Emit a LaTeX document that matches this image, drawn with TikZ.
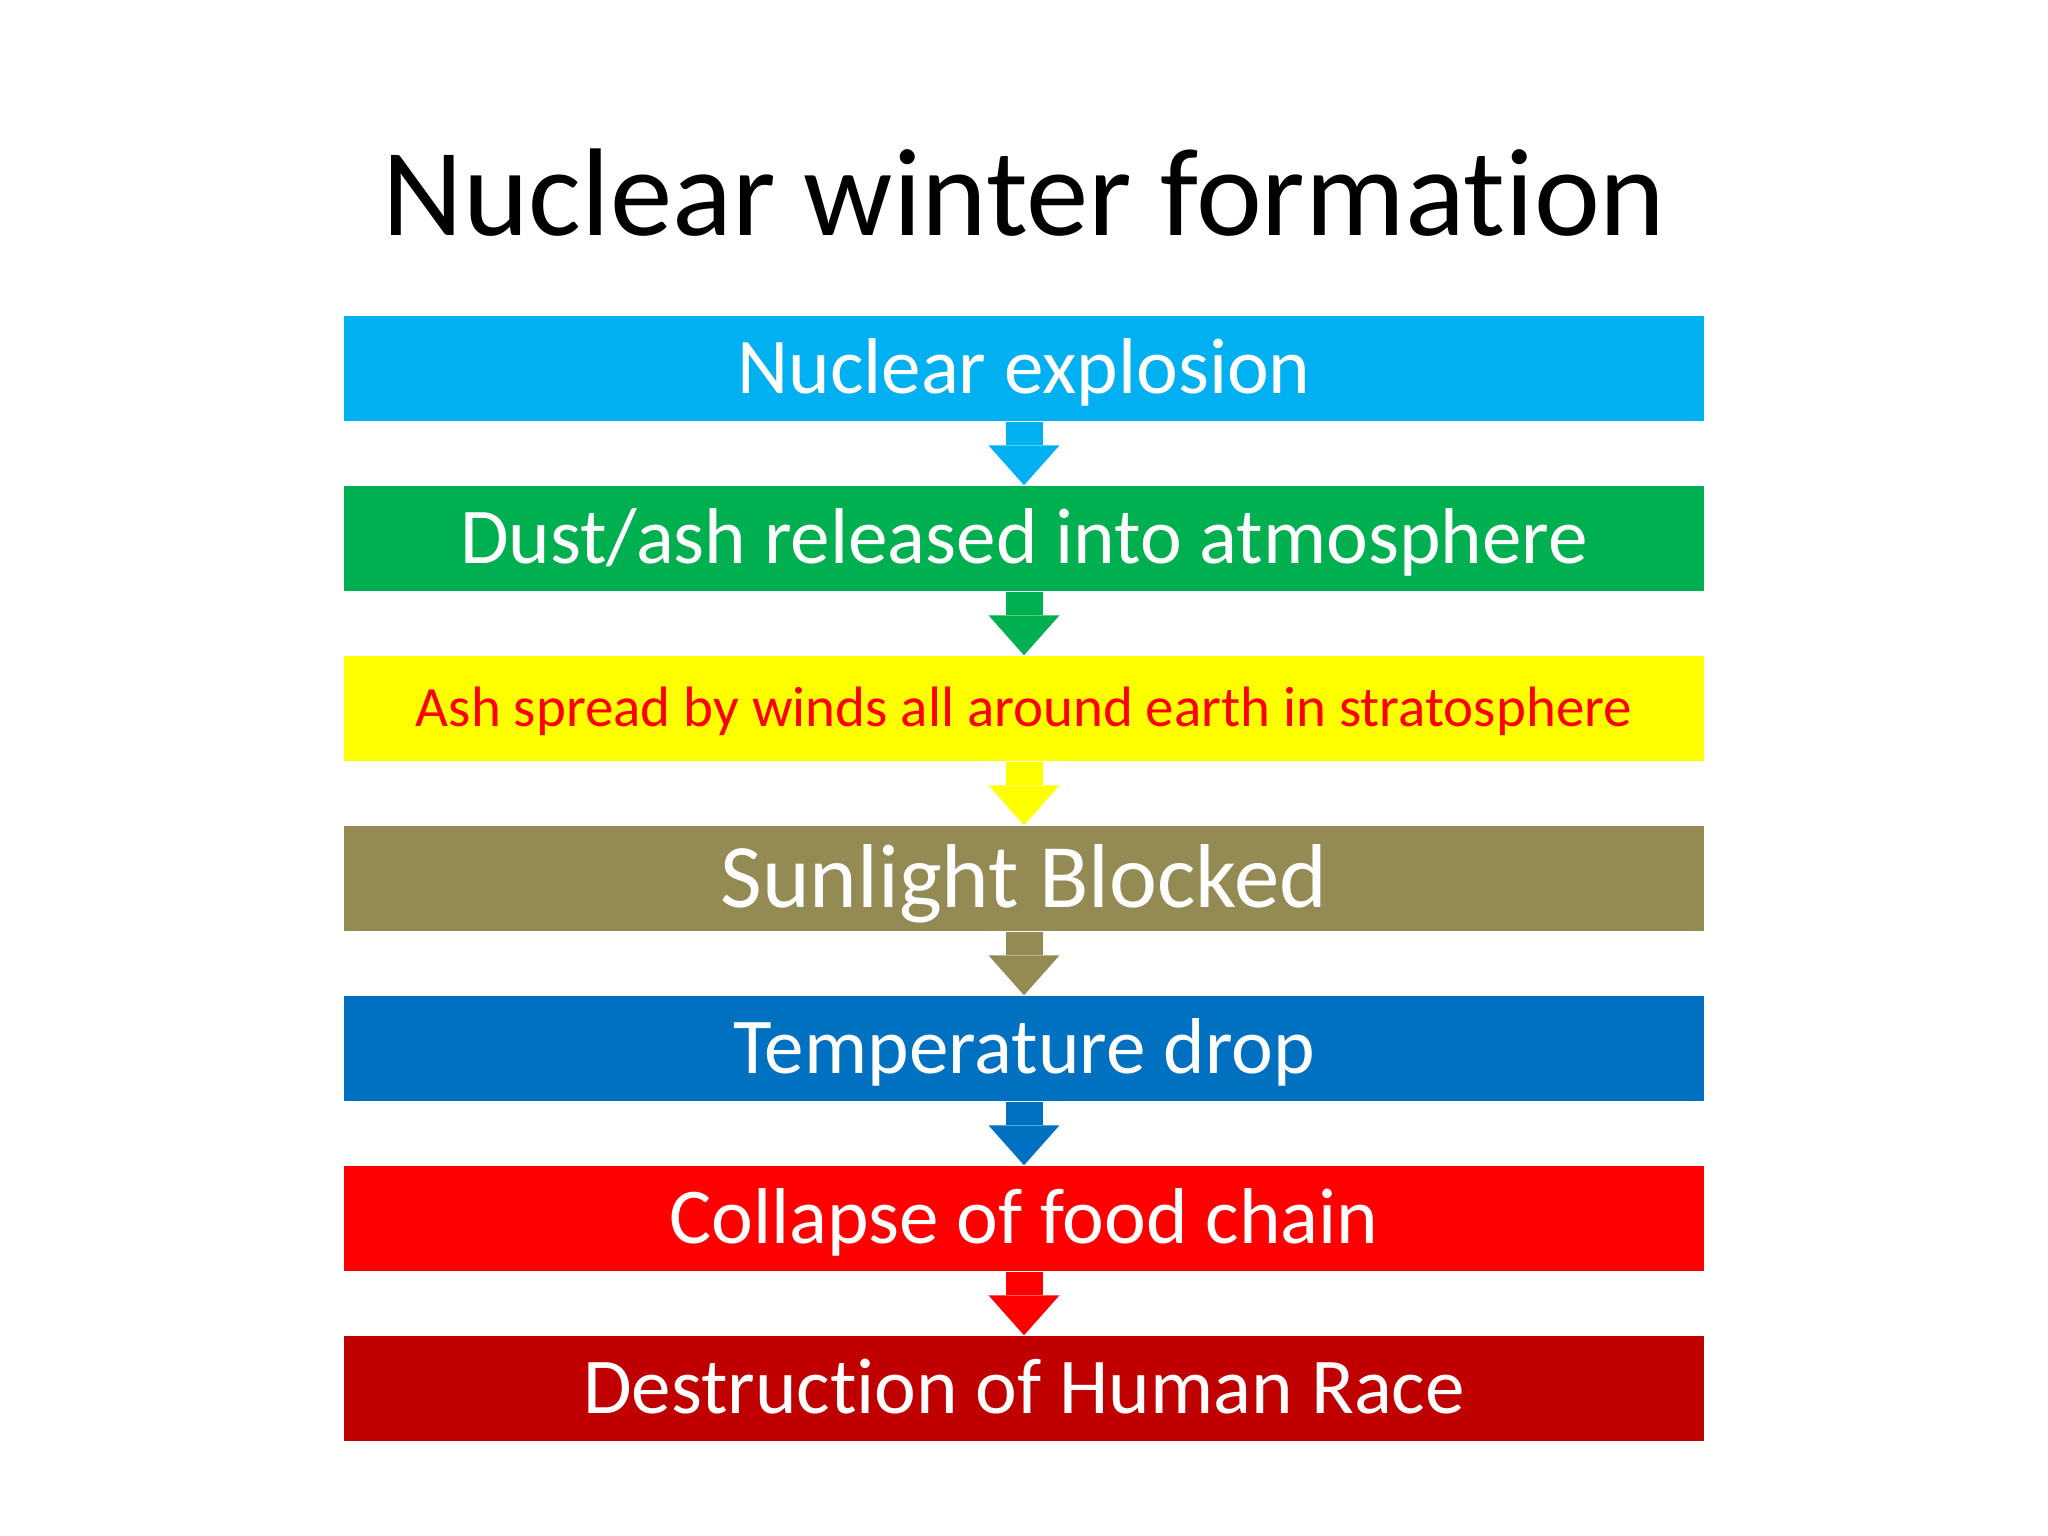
\documentclass[tikz,border=0pt]{standalone}
\usepackage{fontspec}
\setmainfont{Carlito}[Ligatures=NoCommon]
\usetikzlibrary{arrows.meta}
\definecolor{skyblue}{HTML}{00B0F0}
\definecolor{leafgreen}{HTML}{00B050}
\definecolor{ashyellow}{HTML}{FFFF00}
\definecolor{dimolive}{HTML}{948A54}
\definecolor{deepblue}{HTML}{0070C0}
\definecolor{firered}{HTML}{FF0000}
\definecolor{darkred}{HTML}{C00000}
\tikzset{
  stepbox/.style={rectangle, fill=#1, minimum width=13.6cm, minimum height=1.05cm, inner sep=0pt,
    text=white, font=\fontsize{22.5}{27}\selectfont, text height=14.2pt, text depth=0pt},
  flow/.style={draw=#1, line width=0.37cm, -{Triangle[width=0.71cm, length=0.40cm, line width=0pt]}}
}
\begin{document}
\begin{tikzpicture}[x=0.01cm, y=-0.01cm]
\useasboundingbox (0,0) rectangle (2048,1536);
\node[anchor=base, font=\fontsize{35.5}{43}\selectfont] (title) at (1024,235){Nuclear winter formation};
\node[stepbox=skyblue] (explosion) at (1024,368.5){Nuclear explosion};
\node[stepbox=leafgreen] (dust) at (1024,538.5){Dust/ash released into atmosphere};
\node[stepbox=ashyellow, text=firered, font=\fontsize{16.2}{19}\selectfont, text height=10.2pt] (spread) at (1024,708.5){Ash spread by winds all around earth in stratosphere};
\node[stepbox=dimolive, font=\fontsize{25.8}{31}\selectfont, text height=16.3pt] (blocked) at (1024,878.5){Sunlight Blocked};
\node[stepbox=deepblue] (tempdrop) at (1024,1048.5){Temperature drop};
\node[stepbox=firered] (collapse) at (1024,1218.5){Collapse of food chain};
\node[stepbox=darkred] (destruction) at (1024,1388.5){Destruction of Human Race};
\draw[flow=skyblue](explosion) -- (dust);
\draw[flow=leafgreen](dust) -- (spread);
\draw[flow=ashyellow](spread) -- (blocked);
\draw[flow=dimolive](blocked) -- (tempdrop);
\draw[flow=deepblue](tempdrop) -- (collapse);
\draw[flow=firered](collapse) -- (destruction);
\end{tikzpicture}
\end{document}
